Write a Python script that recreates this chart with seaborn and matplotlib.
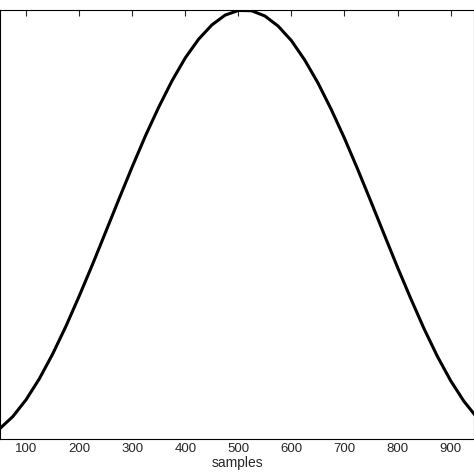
import matplotlib
matplotlib.use('Agg')
import matplotlib.pyplot as plt
import seaborn as sns
import pandas as pd

samples = [50, 75, 100, 125, 150, 175, 200, 225, 250, 275, 300, 325, 350, 375,
           400, 425, 450, 475, 500, 525, 550, 575, 600, 625, 650, 675, 700, 725,
           750, 775, 800, 825, 850, 875, 900, 925, 950]
amplitude = [0.0234, 0.0521, 0.0914, 0.1402, 0.1977, 0.2623, 0.3327, 0.4061,
             0.4824, 0.5590, 0.6343, 0.7066, 0.7734, 0.8347, 0.8882, 0.9316,
             0.9649, 0.9879, 0.9988, 0.9982, 0.9860, 0.9624, 0.9285, 0.8835,
             0.8300, 0.7683, 0.7009, 0.6283, 0.5529, 0.4762, 0.4000, 0.3270,
             0.2569, 0.1927, 0.1360, 0.0879, 0.0494]
xticks = [100, 200, 300, 400, 500, 600, 700, 800, 900]

df = pd.DataFrame({'samples': samples, 'amp': amplitude})

sns.set_style('white')
plt.rcParams['font.family'] = ['Liberation Sans', 'DejaVu Sans']

fig = plt.figure(figsize=(4.74, 4.74), dpi=100)
ax = fig.add_axes([-0.001, 0.074, 1.002, 0.905])

sns.lineplot(data=df, x='samples', y='amp', color='black', linewidth=2.2, ax=ax)

ax.set_xlim(50, 945)
ax.set_ylim(0, 1)
ax.set_xticks(xticks)
ax.set_yticks([])
ax.set_xlabel('samples', fontsize=10, labelpad=1)
ax.set_ylabel('')
ax.tick_params(axis='x', direction='in', top=True, length=4, labelsize=9.5, pad=3)
for s in ax.spines.values():
    s.set_linewidth(0.8)
    s.set_color('black')

fig.savefig('out.png', dpi=100)
